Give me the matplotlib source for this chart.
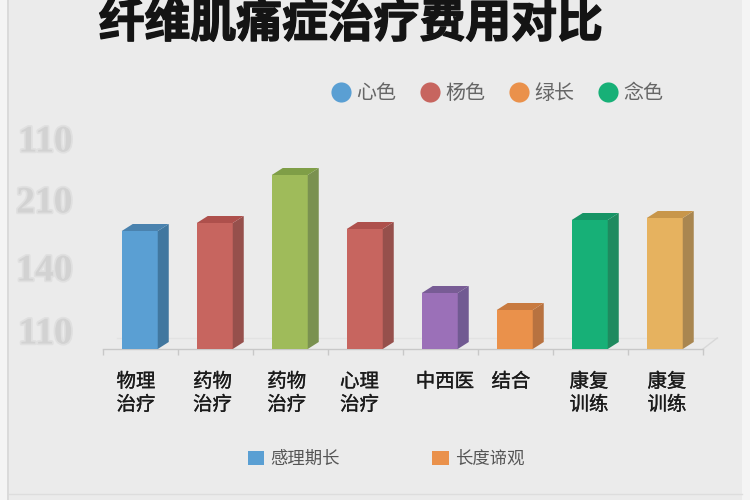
import matplotlib
matplotlib.use("Agg")
import matplotlib.pyplot as plt
import matplotlib.patheffects as pe
from matplotlib.patches import Polygon, Rectangle
from matplotlib.lines import Line2D

plt.rcParams['font.family'] = ['Noto Sans CJK SC', 'DejaVu Sans']

title = "纤维肌痛症治疗费用对比"
categories = ["物理\n治疗", "药物\n治疗", "药物\n治疗", "心理\n治疗", "中西医", "结合", "康复\n训练", "康复\n训练"]
values = [118, 126, 174, 120, 56, 39, 129, 131]
tick_values = [19, 82, 150, 211]
tick_labels = ["110", "140", "210", "110"]
top_legend = ["心色", "杨色", "绿长", "念色"]
bottom_legend = ["感理期长", "长度谛观"]

front = ["#5a9fd3", "#c7655f", "#9fbb5a", "#c7655f", "#9b70b8", "#ea914b", "#17b077", "#e6b25f"]
side = ["#41779f", "#96504c", "#7a9150", "#96504c", "#715a92", "#b87240", "#1f8a5f", "#a98650"]
top = ["#4a82ae", "#ae504c", "#7f9e47", "#ae504c", "#785c95", "#c87a40", "#169465", "#c8964a"]
top_legend_colors = ["#5a9fd3", "#c7655f", "#ea914b", "#17b077"]
bottom_legend_colors = ["#5a9fd3", "#ea914b"]
label_offset = [-0.05, -0.03, -0.04, -0.07, 0.07, -0.05, -0.01, 0.03]

W, H = 750, 500
fig = plt.figure(figsize=(W / 100, H / 100), dpi=100, facecolor="#ebebeb")

def fx(p): return p / W
def fy(p): return 1 - p / H

# page edges
fig.patches.append(Rectangle((0, 0), fx(7), 1, transform=fig.transFigure, fc="#f4f4f4", ec="none"))
fig.patches.append(Rectangle((fx(7), 0), fx(2), 1, transform=fig.transFigure, fc="#dadada", ec="none"))
fig.patches.append(Rectangle((fx(742), 0), fx(8), 1, transform=fig.transFigure, fc="#f4f4f4", ec="none"))
fig.add_artist(Line2D([fx(9), fx(742)], [fy(494), fy(494)], color="#dddddd", lw=1))

ax = fig.add_axes([fx(103), fy(349), fx(600), (349 - 120) / H])
ax.patch.set_alpha(0)
n = len(values)
ax.set_xlim(-0.49, n - 0.49)
ax.set_ylim(0, 229)
for s in ["top", "right", "left"]:
    ax.spines[s].set_visible(False)
ax.spines["bottom"].set_color("#c8c8c8")
ax.spines["bottom"].set_linewidth(1)

bw = 36 / 75
dx, dy = 11 / 75, 7
for i, v in enumerate(values):
    ax.bar(i, v, width=bw, color=front[i], zorder=3)
    x0, x1 = i - bw / 2, i + bw / 2
    ax.add_patch(Polygon([(x1, 0), (x1 + dx, dy), (x1 + dx, v + dy), (x1, v)], fc=side[i], ec="none", zorder=3))
    ax.add_patch(Polygon([(x0, v), (x1, v), (x1 + dx, v + dy), (x0 + dx, v + dy)], fc=top[i], ec="none", zorder=3))

# floor: back line, right edge and separators
ax.plot([-0.3, n - 0.49 + 0.19], [11, 11], color="#e2e2e2", lw=1, zorder=1, clip_on=False)
ax.plot([n - 0.49, n - 0.49 + 0.19], [0, 11], color="#d8d8d8", lw=1, zorder=1, clip_on=False)
ax.set_xticks([i - 0.49 for i in range(n + 1)], minor=True)
ax.tick_params(axis="x", which="minor", length=4, color="#c8c8c8", width=1)
ax.set_xticks([i + o for i, o in enumerate(label_offset)])
ax.set_xticklabels(categories, fontsize=14, color="#1a1a1a", linespacing=1.13, va="top",
                   path_effects=[pe.withStroke(linewidth=0.2, foreground="#1a1a1a")])
ax.tick_params(axis="x", which="major", length=0, pad=16)

ax.set_yticks(tick_values)
ax.set_yticklabels(tick_labels, fontsize=27, color="#d2d2d2", family=["Liberation Serif"], fontweight="bold",
                   path_effects=[pe.withStroke(linewidth=2.5, foreground="#e0e0e0")])
ax.tick_params(axis="y", length=0, pad=22)

fig.text(fx(351), fy(24), title, ha="center", va="center", fontsize=33, fontweight="bold", color="#141414",
         path_effects=[pe.withStroke(linewidth=1.0, foreground="#141414")])

h1 = [Line2D([], [], marker="o", ls="", ms=14.5, mfc=c, mec="none") for c in top_legend_colors]
leg1 = fig.legend(h1, top_legend, loc="center", bbox_to_anchor=(fx(495), fy(93)), ncol=4, frameon=False,
                  fontsize=14.4, labelcolor="#666666", handletextpad=0.05, columnspacing=1.0, handlelength=1.4)
h2 = [Rectangle((0, 0), 1, 1, fc=c, ec="none") for c in bottom_legend_colors]
leg2 = fig.legend(h2, bottom_legend, loc="center", bbox_to_anchor=(fx(386), fy(459)), ncol=2, frameon=False,
                  fontsize=12.5, labelcolor="#555555", handletextpad=0.35, columnspacing=5.3,
                  handlelength=0.95, handleheight=0.8)

fig.savefig("out.png", dpi=100, facecolor=fig.get_facecolor())
